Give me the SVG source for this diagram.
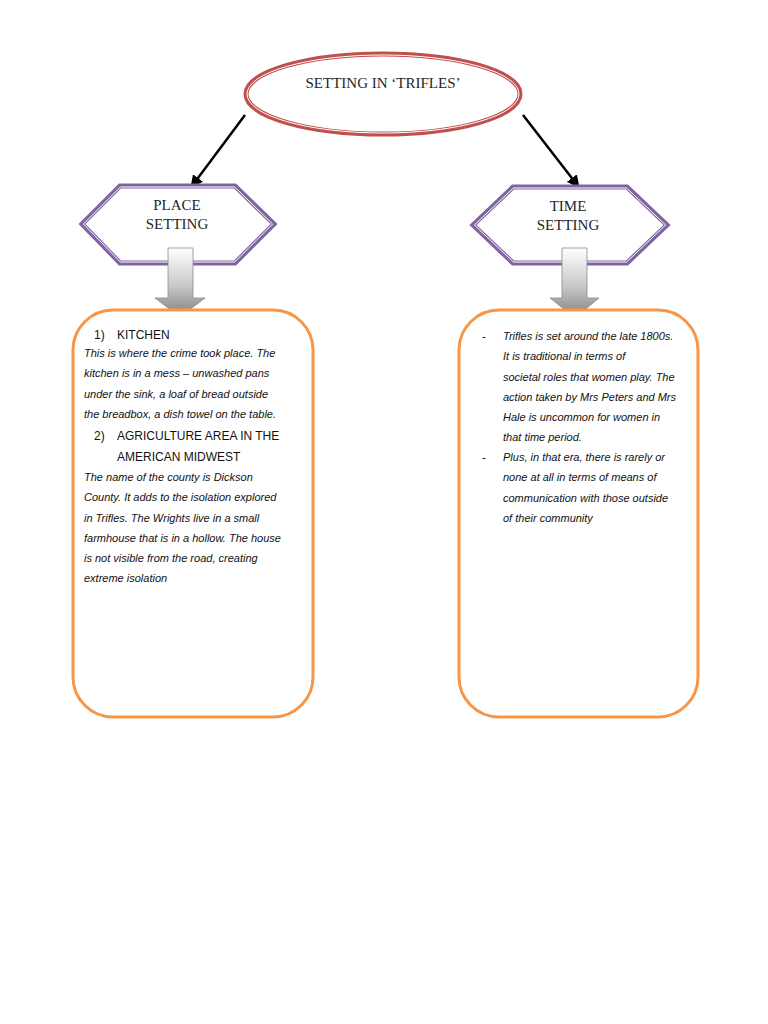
<svg xmlns="http://www.w3.org/2000/svg" width="768" height="1024" viewBox="0 0 768 1024">
<style>
.title{font-family:"Liberation Serif",serif;font-size:15px;fill:#262626;text-anchor:middle}
.body{font-family:"Liberation Sans",sans-serif;font-style:italic;font-size:11px;fill:#111}
.head{font-family:"Liberation Sans",sans-serif;font-size:12px;fill:#111}
.hex-o{fill:#fff;stroke:#8064a2;stroke-width:5;stroke-linejoin:miter}
.hex-i{fill:none;stroke:#fff;stroke-width:1}
.box{fill:#fff;stroke:#f79646;stroke-width:3}
.conn{stroke:#000;stroke-width:2.5;fill:none}
</style>
<defs>
<marker id="ah" viewBox="0 0 10 10" refX="8" refY="5" markerWidth="5" markerHeight="5" orient="auto" markerUnits="strokeWidth">
<path d="M0,0 L10,5 L0,10 z" fill="#000"/>
</marker>
<linearGradient id="gr" x1="0" y1="0" x2="0" y2="1">
<stop offset="0" stop-color="#ffffff"/>
<stop offset="0.55" stop-color="#c8c8c8"/>
<stop offset="1" stop-color="#7f7f7f"/>
</linearGradient>
</defs>
<rect width="768" height="1024" fill="#fff"/>

<g id="connectors">
<line class="conn" x1="245" y1="115" x2="192" y2="186" marker-end="url(#ah)"/>
<line class="conn" x1="523" y1="115" x2="578" y2="186" marker-end="url(#ah)"/>
</g>

<g id="title">
<ellipse cx="383" cy="94" rx="137" ry="40" fill="#fff" stroke="#c0504d" stroke-width="5"/>
<ellipse cx="383" cy="94" rx="136" ry="39" fill="none" stroke="#fff" stroke-width="1"/>
<text class="title" x="383" y="88">SETTING IN ‘TRIFLES’</text>
</g>

<g id="place-setting">
<polygon class="hex-o" points="82,224 120,186 235,186 274,224 235,263 120,263"/>
<polygon class="hex-i" points="83.4,224 120.4,187 234.6,187 272.6,224 234.6,262 120.4,262"/>
<text class="title" x="177" y="210">PLACE</text>
<text class="title" x="177" y="229">SETTING</text>
</g>

<g id="time-setting">
<polygon class="hex-o" points="473,225 513,187 627,187 667,225 627,263 513,263"/>
<polygon class="hex-i" points="474.4,225 513.4,188 626.6,188 665.6,225 626.6,262 513.4,262"/>
<text class="title" x="568" y="211">TIME</text>
<text class="title" x="568" y="230">SETTING</text>
</g>

<g id="place-arrow">
<polygon points="168,248 193,248 193,298 205,298 180,317 155,298 168,298" fill="url(#gr)" stroke="#8a8a8a" stroke-width="0.8"/>
</g>
<g id="time-arrow">
<polygon points="562,248 587,248 587,298 599,298 575,318 550,298 562,298" fill="url(#gr)" stroke="#8a8a8a" stroke-width="0.8"/>
</g>

<g id="place-box">
<rect class="box" x="73" y="310" width="240" height="407" rx="40" ry="40"/>
<text class="head" x="94" y="339">1)</text>
<text class="head" x="117" y="339">KITCHEN</text>
<text class="body" x="84" y="357">This is where the crime took place. The</text>
<text class="body" x="84" y="377">kitchen is in a mess – unwashed pans</text>
<text class="body" x="84" y="398">under the sink, a loaf of bread outside</text>
<text class="body" x="84" y="418">the breadbox, a dish towel on the table.</text>
<text class="head" x="94" y="440">2)</text>
<text class="head" x="117" y="440">AGRICULTURE AREA IN THE</text>
<text class="head" x="117" y="461">AMERICAN MIDWEST</text>
<text class="body" x="84" y="481">The name of the county is Dickson</text>
<text class="body" x="84" y="501">County. It adds to the isolation explored</text>
<text class="body" x="84" y="522">in Trifles. The Wrights live in a small</text>
<text class="body" x="84" y="542">farmhouse that is in a hollow. The house</text>
<text class="body" x="84" y="562">is not visible from the road, creating</text>
<text class="body" x="84" y="582">extreme isolation</text>
</g>

<g id="time-box">
<rect class="box" x="459" y="310" width="239" height="407" rx="40" ry="40"/>
<text class="body" x="482" y="340">-</text>
<text class="body" x="503" y="340">Trifles is set around the late 1800s.</text>
<text class="body" x="503" y="360">It is traditional in terms of</text>
<text class="body" x="503" y="381">societal roles that women play. The</text>
<text class="body" x="503" y="401">action taken by Mrs Peters and Mrs</text>
<text class="body" x="503" y="421">Hale is uncommon for women in</text>
<text class="body" x="503" y="441">that time period.</text>
<text class="body" x="482" y="461">-</text>
<text class="body" x="503" y="461">Plus, in that era, there is rarely or</text>
<text class="body" x="503" y="481">none at all in terms of means of</text>
<text class="body" x="503" y="502">communication with those outside</text>
<text class="body" x="503" y="522">of their community</text>
</g>
</svg>
